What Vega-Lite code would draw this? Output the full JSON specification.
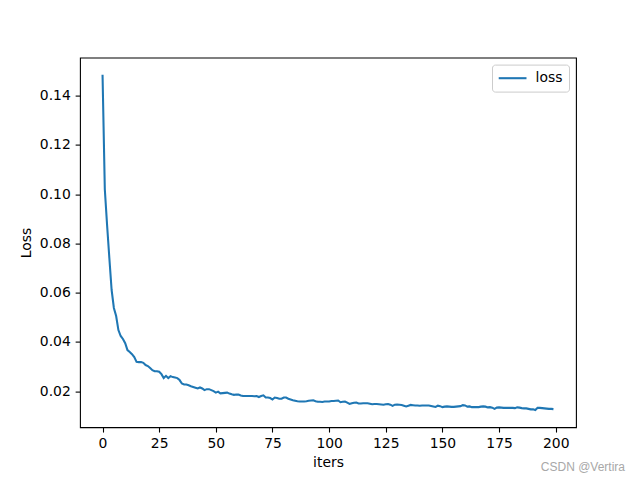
{
  "$schema": "https://vega.github.io/schema/vega-lite/v6.json",
  "autosize": "none",
  "width": 496,
  "height": 369.6,
  "padding": {"left": 80, "top": 57.6, "right": 64, "bottom": 52.8},
  "background": "white",
  "title": {
    "text": "CSDN @Vertira",
    "orient": "bottom",
    "anchor": "end",
    "dx": 49,
    "offset": -8,
    "fontSize": 12,
    "font": "Liberation Sans",
    "fontWeight": "normal",
    "color": "#a8a8a8"
  },
  "data": {
    "values": [
      {"iter": 0, "loss": 0.1485}, {"iter": 1, "loss": 0.1020}, {"iter": 2, "loss": 0.0875}, {"iter": 3, "loss": 0.0741},
      {"iter": 4, "loss": 0.0611}, {"iter": 5, "loss": 0.0538}, {"iter": 6, "loss": 0.0505}, {"iter": 7, "loss": 0.0448},
      {"iter": 8, "loss": 0.0424}, {"iter": 9, "loss": 0.0412}, {"iter": 10, "loss": 0.0395}, {"iter": 11, "loss": 0.0367},
      {"iter": 12, "loss": 0.0359}, {"iter": 13, "loss": 0.0350}, {"iter": 14, "loss": 0.0338}, {"iter": 15, "loss": 0.0319},
      {"iter": 16, "loss": 0.0318}, {"iter": 17, "loss": 0.0318}, {"iter": 18, "loss": 0.0315}, {"iter": 19, "loss": 0.0306},
      {"iter": 20, "loss": 0.0302}, {"iter": 21, "loss": 0.0294}, {"iter": 22, "loss": 0.0285}, {"iter": 23, "loss": 0.0281},
      {"iter": 24, "loss": 0.0281}, {"iter": 25, "loss": 0.0279}, {"iter": 26, "loss": 0.0269}, {"iter": 27, "loss": 0.0253},
      {"iter": 28, "loss": 0.0262}, {"iter": 29, "loss": 0.0253}, {"iter": 30, "loss": 0.0261}, {"iter": 31, "loss": 0.0257},
      {"iter": 32, "loss": 0.0255}, {"iter": 33, "loss": 0.0253}, {"iter": 34, "loss": 0.0245}, {"iter": 35, "loss": 0.0231},
      {"iter": 36, "loss": 0.0227}, {"iter": 37, "loss": 0.0227}, {"iter": 38, "loss": 0.0224}, {"iter": 39, "loss": 0.0220},
      {"iter": 40, "loss": 0.0217}, {"iter": 41, "loss": 0.0214}, {"iter": 42, "loss": 0.0211}, {"iter": 43, "loss": 0.0215},
      {"iter": 44, "loss": 0.0211}, {"iter": 45, "loss": 0.0204}, {"iter": 46, "loss": 0.0208}, {"iter": 47, "loss": 0.0208},
      {"iter": 48, "loss": 0.0204}, {"iter": 49, "loss": 0.0200}, {"iter": 50, "loss": 0.0194}, {"iter": 51, "loss": 0.0198},
      {"iter": 52, "loss": 0.0191}, {"iter": 53, "loss": 0.0192}, {"iter": 54, "loss": 0.0193}, {"iter": 55, "loss": 0.0194},
      {"iter": 56, "loss": 0.0190}, {"iter": 57, "loss": 0.0187}, {"iter": 58, "loss": 0.0185}, {"iter": 59, "loss": 0.0186},
      {"iter": 60, "loss": 0.0186}, {"iter": 61, "loss": 0.0182}, {"iter": 62, "loss": 0.0180}, {"iter": 63, "loss": 0.0180},
      {"iter": 64, "loss": 0.0180}, {"iter": 65, "loss": 0.0180}, {"iter": 66, "loss": 0.0180}, {"iter": 67, "loss": 0.0179},
      {"iter": 68, "loss": 0.0180}, {"iter": 69, "loss": 0.0176}, {"iter": 70, "loss": 0.0180}, {"iter": 71, "loss": 0.0183},
      {"iter": 72, "loss": 0.0174}, {"iter": 73, "loss": 0.0174}, {"iter": 74, "loss": 0.0172}, {"iter": 75, "loss": 0.0166},
      {"iter": 76, "loss": 0.0174}, {"iter": 77, "loss": 0.0172}, {"iter": 78, "loss": 0.0169}, {"iter": 79, "loss": 0.0169},
      {"iter": 80, "loss": 0.0174}, {"iter": 81, "loss": 0.0174}, {"iter": 82, "loss": 0.0169}, {"iter": 83, "loss": 0.0166},
      {"iter": 84, "loss": 0.0163}, {"iter": 85, "loss": 0.0161}, {"iter": 86, "loss": 0.0159}, {"iter": 87, "loss": 0.0158},
      {"iter": 88, "loss": 0.0158}, {"iter": 89, "loss": 0.0158}, {"iter": 90, "loss": 0.0159}, {"iter": 91, "loss": 0.0161},
      {"iter": 92, "loss": 0.0162}, {"iter": 93, "loss": 0.0163}, {"iter": 94, "loss": 0.0159}, {"iter": 95, "loss": 0.0157},
      {"iter": 96, "loss": 0.0157}, {"iter": 97, "loss": 0.0156}, {"iter": 98, "loss": 0.0158}, {"iter": 99, "loss": 0.0158},
      {"iter": 100, "loss": 0.0158}, {"iter": 101, "loss": 0.0160}, {"iter": 102, "loss": 0.0160}, {"iter": 103, "loss": 0.0161},
      {"iter": 104, "loss": 0.0162}, {"iter": 105, "loss": 0.0155}, {"iter": 106, "loss": 0.0157}, {"iter": 107, "loss": 0.0158},
      {"iter": 108, "loss": 0.0153}, {"iter": 109, "loss": 0.0148}, {"iter": 110, "loss": 0.0151}, {"iter": 111, "loss": 0.0153},
      {"iter": 112, "loss": 0.0154}, {"iter": 113, "loss": 0.0150}, {"iter": 114, "loss": 0.0150}, {"iter": 115, "loss": 0.0151},
      {"iter": 116, "loss": 0.0151}, {"iter": 117, "loss": 0.0151}, {"iter": 118, "loss": 0.0149}, {"iter": 119, "loss": 0.0147},
      {"iter": 120, "loss": 0.0148}, {"iter": 121, "loss": 0.0148}, {"iter": 122, "loss": 0.0147}, {"iter": 123, "loss": 0.0146},
      {"iter": 124, "loss": 0.0145}, {"iter": 125, "loss": 0.0147}, {"iter": 126, "loss": 0.0148}, {"iter": 127, "loss": 0.0145},
      {"iter": 128, "loss": 0.0140}, {"iter": 129, "loss": 0.0145}, {"iter": 130, "loss": 0.0146}, {"iter": 131, "loss": 0.0145},
      {"iter": 132, "loss": 0.0144}, {"iter": 133, "loss": 0.0141}, {"iter": 134, "loss": 0.0138}, {"iter": 135, "loss": 0.0141},
      {"iter": 136, "loss": 0.0144}, {"iter": 137, "loss": 0.0143}, {"iter": 138, "loss": 0.0142}, {"iter": 139, "loss": 0.0142},
      {"iter": 140, "loss": 0.0141}, {"iter": 141, "loss": 0.0142}, {"iter": 142, "loss": 0.0142}, {"iter": 143, "loss": 0.0142},
      {"iter": 144, "loss": 0.0142}, {"iter": 145, "loss": 0.0140}, {"iter": 146, "loss": 0.0138}, {"iter": 147, "loss": 0.0136},
      {"iter": 148, "loss": 0.0141}, {"iter": 149, "loss": 0.0139}, {"iter": 150, "loss": 0.0135}, {"iter": 151, "loss": 0.0137},
      {"iter": 152, "loss": 0.0138}, {"iter": 153, "loss": 0.0137}, {"iter": 154, "loss": 0.0136}, {"iter": 155, "loss": 0.0136},
      {"iter": 156, "loss": 0.0137}, {"iter": 157, "loss": 0.0138}, {"iter": 158, "loss": 0.0139}, {"iter": 159, "loss": 0.0143},
      {"iter": 160, "loss": 0.0142}, {"iter": 161, "loss": 0.0137}, {"iter": 162, "loss": 0.0138}, {"iter": 163, "loss": 0.0135},
      {"iter": 164, "loss": 0.0135}, {"iter": 165, "loss": 0.0135}, {"iter": 166, "loss": 0.0135}, {"iter": 167, "loss": 0.0137},
      {"iter": 168, "loss": 0.0138}, {"iter": 169, "loss": 0.0137}, {"iter": 170, "loss": 0.0134}, {"iter": 171, "loss": 0.0135},
      {"iter": 172, "loss": 0.0133}, {"iter": 173, "loss": 0.0128}, {"iter": 174, "loss": 0.0133}, {"iter": 175, "loss": 0.0134},
      {"iter": 176, "loss": 0.0133}, {"iter": 177, "loss": 0.0132}, {"iter": 178, "loss": 0.0132}, {"iter": 179, "loss": 0.0132},
      {"iter": 180, "loss": 0.0132}, {"iter": 181, "loss": 0.0132}, {"iter": 182, "loss": 0.0131}, {"iter": 183, "loss": 0.0134},
      {"iter": 184, "loss": 0.0133}, {"iter": 185, "loss": 0.0131}, {"iter": 186, "loss": 0.0130}, {"iter": 187, "loss": 0.0130},
      {"iter": 188, "loss": 0.0128}, {"iter": 189, "loss": 0.0126}, {"iter": 190, "loss": 0.0126}, {"iter": 191, "loss": 0.0123},
      {"iter": 192, "loss": 0.0132}, {"iter": 193, "loss": 0.0132}, {"iter": 194, "loss": 0.0131}, {"iter": 195, "loss": 0.0130},
      {"iter": 196, "loss": 0.0129}, {"iter": 197, "loss": 0.0128}, {"iter": 198, "loss": 0.0128}, {"iter": 199, "loss": 0.0127}
    ]
  },
  "mark": {"type": "line", "strokeWidth": 2.08, "clip": true},
  "encoding": {
    "x": {
      "field": "iter",
      "type": "quantitative",
      "title": "iters",
      "scale": {"domain": [-9.95, 208.95], "nice": false, "zero": false},
      "axis": {"values": [0, 25, 50, 75, 100, 125, 150, 175, 200], "format": "d", "titlePadding": 5}
    },
    "y": {
      "field": "loss",
      "type": "quantitative",
      "title": "Loss",
      "scale": {"domain": [0.00535, 0.1555], "nice": false, "zero": false},
      "axis": {"values": [0.02, 0.04, 0.06, 0.08, 0.1, 0.12, 0.14], "format": ".2f", "titlePadding": 6}
    },
    "color": {
      "datum": "loss",
      "scale": {"range": ["#1f77b4"]},
      "legend": {
        "title": null,
        "orient": "top-right",
        "offset": 7,
        "padding": 5.6,
        "symbolType": "M-2,0H2",
        "symbolSize": 193,
        "symbolOffset": 7,
        "symbolStrokeWidth": 2.08,
        "labelOffset": 15,
        "labelFontSize": 13.9,
        "labelFont": "DejaVu Sans",
        "labelColor": "black",
        "strokeColor": "#cccccc",
        "fillColor": "rgba(255,255,255,0.8)",
        "cornerRadius": 3
      }
    }
  },
  "config": {
    "view": {"stroke": "black", "strokeWidth": 1.1},
    "axis": {
      "grid": false,
      "domain": false,
      "ticks": true,
      "tickColor": "black",
      "tickWidth": 1.1,
      "tickSize": 4.86,
      "labelPadding": 4.86,
      "labelFont": "DejaVu Sans",
      "labelFontSize": 13.9,
      "labelColor": "black",
      "titleFont": "DejaVu Sans",
      "titleFontSize": 13.9,
      "titleFontWeight": "normal",
      "titleColor": "black",
      "labelFlush": false,
      "labelOverlap": false
    }
  }
}
